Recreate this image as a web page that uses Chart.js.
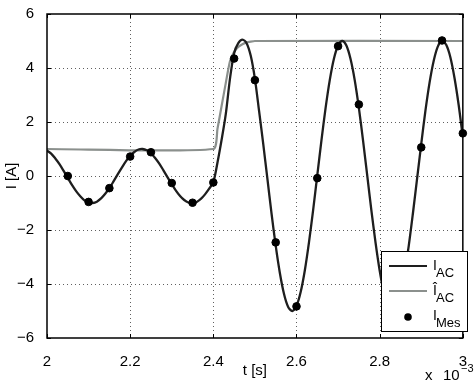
<!DOCTYPE html>
<html>
<head>
<meta charset="utf-8">
<script src="https://cdn.jsdelivr.net/npm/chart.js@4/dist/chart.umd.min.js"></script>
<style>
  html, body { margin: 0; padding: 0; background: #ffffff; }
  #chart { display: block; }
</style>
</head>
<body>
<canvas id="chart" width="474" height="383"></canvas>
<script>
// time axis in ms (label shows x 10^-3)
const timeMs = [
  2.00, 2.01, 2.02, 2.03, 2.04, 2.05, 2.06, 2.07, 2.08, 2.09,
  2.10, 2.11, 2.12, 2.13, 2.14, 2.15, 2.16, 2.17, 2.18, 2.19,
  2.20, 2.21, 2.22, 2.23, 2.24, 2.25, 2.26, 2.27, 2.28, 2.29,
  2.30, 2.31, 2.32, 2.33, 2.34, 2.35, 2.36, 2.37, 2.38, 2.39,
  2.40, 2.41, 2.42, 2.43, 2.44, 2.45, 2.46, 2.47, 2.48, 2.49,
  2.50, 2.51, 2.52, 2.53, 2.54, 2.55, 2.56, 2.57, 2.58, 2.59,
  2.60, 2.61, 2.62, 2.63, 2.64, 2.65, 2.66, 2.67, 2.68, 2.69,
  2.70, 2.71, 2.72, 2.73, 2.74, 2.75, 2.76, 2.77, 2.78, 2.79,
  2.80, 2.81, 2.82, 2.83, 2.84, 2.85, 2.86, 2.87, 2.88, 2.89,
  2.90, 2.91, 2.92, 2.93, 2.94, 2.95, 2.96, 2.97, 2.98, 2.99,
  3.00
];

// I_AC (dark curve)
const iAC = [
  0.94, 0.83, 0.65, 0.44, 0.19, -0.07, -0.33, -0.56, -0.75, -0.90,
  -0.98, -1.00, -0.95, -0.83, -0.66, -0.45, -0.20, 0.06, 0.31, 0.55,
  0.75, 0.89, 0.98, 1.00, 0.95, 0.84, 0.67, 0.46, 0.21, -0.05,
  -0.30, -0.54, -0.74, -0.89, -0.98, -1.00, -0.96, -0.85, -0.68, -0.47,
  -0.23, 0.50, 1.35, 2.30, 3.60, 4.55, 4.92, 5.05, 4.92, 4.45,
  3.60, 2.41, 1.19, -0.10, -1.39, -2.58, -3.59, -4.37, -4.85, -5.00,
  -4.81, -4.30, -3.50, -2.46, -1.26, 0.03, 1.32, 2.52, 3.55, 4.34,
  4.83, 5.00, 4.83, 4.33, 3.55, 2.52, 1.32, 0.03, -1.26, -2.46,
  -3.50, -4.30, -4.81, -5.00, -4.85, -4.37, -3.59, -2.58, -1.38, -0.10,
  1.19, 2.41, 3.46, 4.27, 4.80, 5.00, 4.86, 4.40, 3.63, 2.63,
  1.44
];

// Î_AC (gray envelope)
const envTime = [2.00, 2.40, 2.41, 2.42, 2.43, 2.44, 2.45, 2.46, 2.47, 2.48, 2.49, 2.50, 3.00];
const envAC = [1.00, 1.00, 1.75, 2.60, 3.45, 4.25, 4.60, 4.78, 4.88, 4.95, 4.98, 5.00, 5.00];

// I_Mes (measured samples; the ones behind the legend are not readable)
const mesTime = [2.05, 2.10, 2.15, 2.20, 2.25, 2.30, 2.35, 2.40, 2.45, 2.50,
                 2.55, 2.60, 2.65, 2.70, 2.75, 2.90, 2.95, 3.00];
const mesI = [0.00, -0.96, -0.45, 0.72, 0.88, -0.26, -0.99, -0.24, 4.35, 3.55,
              -2.46, -4.83, -0.08, 4.81, 2.65, 1.06, 5.02, 1.58];

const xTicks = [2, 2.2, 2.4, 2.6, 2.8, 3];
const yTicks = [-6, -4, -2, 0, 2, 4, 6];

const DARK = '#1e1e1e';
const GRAY = '#8b908d';
const FONT = "'Liberation Sans', Arial, sans-serif";

function toPoints(xs, ys) {
    return xs.map((x, i) => ({ x: x, y: ys[i] }));
}

// dotted grid under the data
const dottedGrid = {
    id: 'dottedGrid',
    beforeDatasetsDraw(chart) {
        const ctx = chart.ctx;
        const a = chart.chartArea;
        const xs = chart.scales.x;
        const ys = chart.scales.y;
        ctx.save();
        ctx.strokeStyle = '#606060';
        ctx.lineWidth = 1;
        ctx.setLineDash([1, 3]);
        ctx.beginPath();
        xTicks.slice(1, -1).forEach(v => {
            const px = Math.round(xs.getPixelForValue(v)) + 0.5;
            ctx.moveTo(px, a.top);
            ctx.lineTo(px, a.bottom);
        });
        yTicks.slice(1, -1).forEach(v => {
            const py = Math.round(ys.getPixelForValue(v)) + 0.5;
            ctx.moveTo(a.left, py);
            ctx.lineTo(a.right, py);
        });
        ctx.stroke();
        ctx.restore();
    }
};

// frame, inner ticks, legend box and exponent label
const matlabDecor = {
    id: 'matlabDecor',
    afterDraw(chart) {
        const ctx = chart.ctx;
        const a = chart.chartArea;
        const xs = chart.scales.x;
        const ys = chart.scales.y;
        ctx.save();

        // inner tick marks
        ctx.strokeStyle = '#000';
        ctx.lineWidth = 1;
        ctx.beginPath();
        xTicks.forEach(v => {
            const px = Math.round(xs.getPixelForValue(v)) + 0.5;
            ctx.moveTo(px, a.bottom); ctx.lineTo(px, a.bottom - 4);
            ctx.moveTo(px, a.top); ctx.lineTo(px, a.top + 4);
        });
        yTicks.forEach(v => {
            const py = Math.round(ys.getPixelForValue(v)) + 0.5;
            ctx.moveTo(a.left, py); ctx.lineTo(a.left + 4, py);
            ctx.moveTo(a.right, py); ctx.lineTo(a.right - 4, py);
        });
        ctx.stroke();

        // frame
        ctx.lineWidth = 1.5;
        ctx.strokeRect(a.left, a.top, a.right - a.left, a.bottom - a.top);

        // legend
        const lx = 381, ly = 251, lw = 86, lh = 80;
        ctx.fillStyle = '#fff';
        ctx.fillRect(lx, ly, lw, lh);
        ctx.lineWidth = 1;
        ctx.strokeStyle = '#000';
        ctx.strokeRect(lx + 0.5, ly + 0.5, lw, lh);

        const rows = [
            { y: 266, main: 'I', sub: 'AC', kind: 'line', color: DARK },
            { y: 291, main: '\u00CE', sub: 'AC', kind: 'line', color: GRAY },
            { y: 316, main: 'I', sub: 'Mes', kind: 'point', color: '#000' }
        ];
        rows.forEach(r => {
            if (r.kind === 'line') {
                ctx.strokeStyle = r.color;
                ctx.lineWidth = 2;
                ctx.beginPath();
                ctx.moveTo(389, r.y);
                ctx.lineTo(427, r.y);
                ctx.stroke();
            } else {
                ctx.fillStyle = '#000';
                ctx.beginPath();
                ctx.arc(408, r.y + 1, 3.8, 0, Math.PI * 2);
                ctx.fill();
            }
            ctx.fillStyle = '#000';
            ctx.textAlign = 'left';
            ctx.textBaseline = 'alphabetic';
            ctx.font = '14px ' + FONT;
            ctx.fillText(r.main, 433, r.y + 4);
            ctx.font = '13px ' + FONT;
            ctx.fillText(r.sub, 436, r.y + 11);
        });

        // exponent label
        ctx.fillStyle = '#000';
        ctx.textAlign = 'left';
        ctx.textBaseline = 'alphabetic';
        ctx.font = '15px ' + FONT;
        ctx.fillText('x', 425, 380);
        ctx.fillText('10', 443, 380);
        ctx.font = '11px ' + FONT;
        ctx.fillText('\u22123', 461, 372);

        ctx.restore();
    }
};

const chart = new Chart(document.getElementById('chart'), {
    type: 'scatter',
    data: {
        datasets: [
            {
                label: 'I_Mes',
                data: toPoints(mesTime, mesI),
                showLine: false,
                pointStyle: 'circle',
                pointRadius: 3.8,
                pointBackgroundColor: '#000',
                pointBorderColor: '#000',
                pointBorderWidth: 1,
                clip: false,
                order: 0
            },
            {
                label: 'I_AC',
                data: toPoints(timeMs, iAC),
                showLine: true,
                borderColor: DARK,
                borderWidth: 2.3,
                pointRadius: 0,
                tension: 0.3,
                order: 1
            },
            {
                label: 'Î_AC',
                data: toPoints(envTime, envAC),
                showLine: true,
                borderColor: GRAY,
                borderWidth: 2.2,
                pointRadius: 0,
                tension: 0.2,
                order: 2
            }
        ]
    },
    options: {
        responsive: false,
        animation: false,
        devicePixelRatio: 1,
        layout: {
            padding: { left: 0, right: 6, top: 7, bottom: 0 }
        },
        plugins: {
            legend: { display: false },
            tooltip: { enabled: false }
        },
        scales: {
            x: {
                type: 'linear',
                min: 2,
                max: 3,
                afterFit: s => { s.height = 45; },
                afterBuildTicks: s => { s.ticks = xTicks.map(v => ({ value: v })); },
                ticks: {
                    color: '#000',
                    padding: 7,
                    maxRotation: 0,
                    font: { family: FONT, size: 15 },
                    callback: v => String(Math.round(v * 10) / 10)
                },
                grid: { display: false },
                border: { display: false },
                title: {
                    display: true,
                    text: 't [s]',
                    color: '#000',
                    font: { family: FONT, size: 15, lineHeight: 1.1 }
                }
            },
            y: {
                type: 'linear',
                min: -6,
                max: 6,
                afterFit: s => { s.width = 47; },
                afterBuildTicks: s => { s.ticks = yTicks.map(v => ({ value: v })); },
                ticks: {
                    color: '#000',
                    padding: 5,
                    font: { family: FONT, size: 15 },
                    callback: v => String(v).replace('-', '\u2212')
                },
                grid: { display: false },
                border: { display: false },
                title: {
                    display: true,
                    text: 'I [A]',
                    color: '#000',
                    font: { family: FONT, size: 15, lineHeight: 1.0 }
                }
            }
        }
    },
    plugins: [dottedGrid, matlabDecor]
});
</script>
</body>
</html>
